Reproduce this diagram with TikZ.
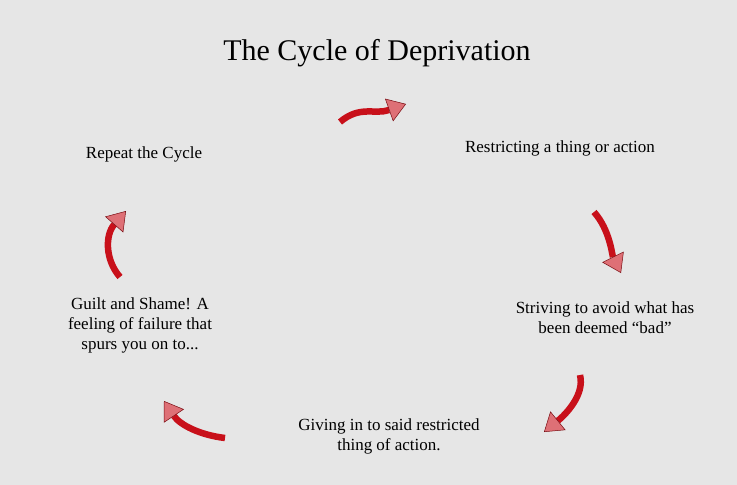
\documentclass[tikz,border=0pt]{standalone}
\usepackage{fontspec}
\setmainfont{Liberation Serif}
\usetikzlibrary{arrows.meta}
\definecolor{bg}{HTML}{E6E6E6}
\definecolor{arr}{HTML}{C8101A}
\begin{document}
\begin{tikzpicture}[x=1pt,y=-1pt,
  lbl/.style={font=\fontsize{17}{20}\selectfont, align=center},
  cyc/.style={draw=arr, line width=6.5pt, -{Triangle[length=18pt,width=24pt,color=arr!60!black,fill=arr!60!white,line width=0.5pt]}}]
\fill[bg] (0,0) rectangle (737,485);
\useasboundingbox (0,0) rectangle (737,485);
\node (title) at (377,53) {\fontsize{30}{34}\selectfont The Cycle of Deprivation};
\node[lbl] (n1) at (560,148) {Restricting a thing or action};
\node[lbl] (n2) at (605,318) {Striving to avoid what has\\been deemed “bad”};
\node[lbl] (n3) at (389,436) {Giving in to said restricted\\thing of action.};
\node[lbl] (n4) at (140,325) {Guilt and Shame! A\\feeling of failure that\\spurs you on to...};
\node[lbl] (n5) at (144,154) {Repeat the Cycle};
\coordinate (a1) at (340,122); \coordinate (b1) at (406,104);
\coordinate (a2) at (594,212); \coordinate (b2) at (621,273);
\coordinate (a3) at (580,375); \coordinate (b3) at (544,432);
\coordinate (a4) at (225,438); \coordinate (b4) at (164,401);
\coordinate (a5) at (120,277); \coordinate (b5) at (126,211);
\draw[cyc] (a1) .. controls (360,105) and (375,115) .. (b1);
\draw[cyc] (a2) .. controls (610,230) and (612,255) .. (b2);
\draw[cyc] (a3) .. controls (585,395) and (565,415) .. (b3);
\draw[cyc] (a4) .. controls (200,435) and (180,425) .. (b4);
\draw[cyc] (a5) .. controls (105,260) and (105,235) .. (b5);
\end{tikzpicture}
\end{document}
